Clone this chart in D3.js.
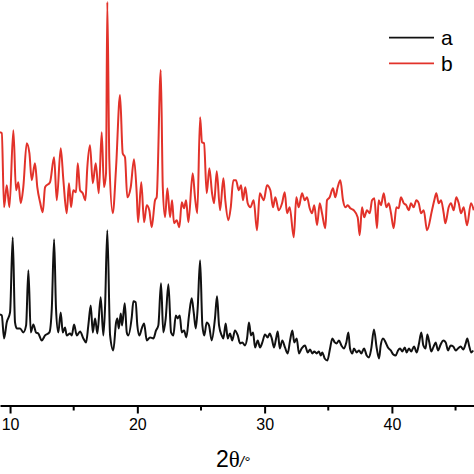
<!DOCTYPE html>
<html lang="en">
    <head>
        <meta charset="utf-8">
        <title>XRD patterns a and b</title>
        <script type="text/javascript" src="https://d3js.org/d3.v7.min.js"></script>
        <style>
            body { margin: 0; background: #fff; }
        </style>
    </head>
    <body>
        <script type="text/javascript">

            // series a (black) : 2theta and intensity (a.u.)
            var aTheta = [9.21, 9.35, 9.53, 9.74, 10.00, 10.21, 10.39, 10.53, 10.79, 11.04, 11.26, 11.44, 11.63, 11.83, 12.04, 12.22, 12.49, 12.75, 13.09, 13.28,
                13.46, 13.61, 13.79, 13.98, 14.14, 14.32, 14.45, 14.71, 14.85, 15.03, 15.24, 15.50, 15.76, 15.97, 16.15, 16.34, 16.50, 16.68, 16.86, 17.12,
                17.33, 17.46, 17.64, 17.86, 18.11, 18.33, 18.43, 18.54, 18.70, 18.80, 19.01, 19.17, 19.29, 19.56, 19.69, 19.87, 20.00, 20.16, 20.35, 20.53,
                20.74, 21.00, 21.26, 21.47, 21.65, 21.86, 22.04, 22.23, 22.44, 22.65, 22.83, 23.02, 23.17, 23.33, 23.49, 23.67, 23.85, 24.06, 24.27, 24.43,
                24.59, 24.74, 24.93, 25.11, 25.26, 25.45, 25.63, 25.84, 26.10, 26.26, 26.42, 26.63, 26.76, 26.94, 27.10, 27.28, 27.46, 27.67, 27.89, 28.07,
                28.25, 28.46, 28.62, 28.77, 28.93, 29.09, 29.25, 29.46, 29.64, 29.82, 30.03, 30.24, 30.40, 30.56, 30.74, 30.90, 31.03, 31.19, 31.39, 31.60,
                31.81, 32.00, 32.18, 32.33, 32.52, 32.70, 32.91, 33.17, 33.39, 33.57, 33.75, 33.90, 34.09, 34.27, 34.41, 34.53, 34.72, 34.93, 35.14, 35.32,
                35.51, 35.66, 35.84, 36.03, 36.24, 36.42, 36.58, 36.71, 36.89, 37.02, 37.23, 37.42, 37.60, 37.81, 38.02, 38.20, 38.38, 38.59, 38.81, 38.99,
                39.12, 39.30, 39.51, 39.69, 39.91, 40.11, 40.30, 40.48, 40.64, 40.82, 41.01, 41.16, 41.34, 41.52, 41.74, 41.95, 42.13, 42.31, 42.47, 42.65,
                42.78, 42.94, 43.09, 43.25, 43.44, 43.62, 43.83, 44.04, 44.23, 44.41, 44.62, 44.82, 45.01, 45.19, 45.40, 45.61, 45.80, 45.92, 46.08, 46.24, 46.39];
            var aIntensity = [91, 90, 67, 83, 93, 168, 83, 77, 77, 73, 80, 135, 73, 81, 73, 72, 65, 70, 73, 97,
                166, 97, 73, 93, 73, 78, 70, 72, 70, 81, 70, 74, 67, 63, 80, 100, 73, 87, 72, 108,
                70, 97, 175, 70, 55, 83, 87, 77, 92, 80, 102, 73, 70, 88, 104, 103, 80, 70, 77, 82,
                65, 68, 67, 75, 80, 122, 73, 87, 121, 73, 70, 90, 87, 90, 73, 75, 68, 90, 107, 93,
                77, 97, 145, 80, 70, 83, 80, 65, 87, 109, 80, 70, 67, 82, 67, 72, 65, 75, 70, 62,
                63, 60, 67, 83, 70, 73, 58, 65, 58, 63, 71, 68, 72, 67, 58, 67, 74, 57, 65, 58,
                52, 65, 75, 63, 67, 52, 57, 60, 53, 56, 52, 54, 52, 54, 50, 53, 47, 45, 57, 67,
                63, 62, 65, 60, 57, 63, 73, 57, 52, 57, 53, 55, 52, 57, 50, 48, 57, 76, 57, 47,
                60, 67, 63, 58, 55, 51, 50, 55, 57, 54, 58, 53, 57, 54, 59, 53, 62, 73, 60, 57,
                71, 63, 54, 58, 63, 55, 61, 65, 63, 55, 60, 59, 55, 57, 59, 56, 62, 67, 59, 53, 55];

            // series b (red)
            var bTheta = [9.21, 9.35, 9.53, 9.74, 9.95, 10.26, 10.47, 10.65, 10.84, 11.04, 11.31, 11.52, 11.70, 11.96, 12.14, 12.36, 12.57, 12.75, 13.14, 13.46,
                13.67, 13.98, 14.19, 14.45, 14.63, 14.79, 14.97, 15.18, 15.32, 15.50, 15.71, 15.92, 16.07, 16.28, 16.50, 16.73, 16.97, 17.20, 17.38, 17.54,
                17.64, 17.80, 18.07, 18.33, 18.64, 18.85, 19.03, 19.21, 19.48, 19.74, 19.95, 20.06, 20.31, 20.53, 20.74, 20.94, 21.13, 21.39, 21.52, 21.84,
                22.00, 22.18, 22.36, 22.57, 22.73, 22.88, 23.09, 23.30, 23.49, 23.67, 23.83, 24.01, 24.35, 24.53, 24.71, 24.93, 25.08, 25.24, 25.45, 25.66,
                25.87, 26.03, 26.24, 26.50, 26.76, 26.91, 27.15, 27.34, 27.54, 27.75, 27.97, 28.15, 28.30, 28.48, 28.67, 28.88, 29.14, 29.40, 29.62, 29.93,
                30.19, 30.45, 30.66, 30.84, 31.11, 31.37, 31.58, 31.76, 31.97, 32.29, 32.49, 32.68, 32.94, 33.15, 33.33, 33.54, 33.72, 33.90, 34.12, 34.33,
                34.51, 34.77, 34.90, 35.11, 35.37, 35.55, 35.74, 35.95, 36.16, 36.34, 36.53, 36.73, 37.00, 37.31, 37.47, 37.65, 37.83, 38.04, 38.26, 38.44,
                38.62, 38.83, 38.96, 39.14, 39.36, 39.56, 39.75, 39.93, 40.14, 40.35, 40.53, 40.71, 40.93, 41.13, 41.32, 41.50, 41.71, 41.92, 42.11, 42.29,
                42.50, 42.76, 43.15, 43.33, 43.49, 43.68, 43.86, 44.07, 44.20, 44.46, 44.64, 44.85, 45.06, 45.25, 45.43, 45.64, 45.90, 46.21, 46.43];
            var bIntensity = [273, 272, 198, 220, 198, 275, 215, 223, 202, 218, 262, 252, 225, 242, 218, 203, 193, 218, 223, 248,
                205, 257, 225, 192, 222, 198, 215, 213, 242, 215, 212, 205, 238, 260, 222, 242, 212, 273, 218, 232,
                403, 245, 192, 238, 310, 252, 248, 208, 218, 246, 212, 183, 223, 183, 200, 195, 178, 205, 208, 335,
                218, 188, 217, 188, 205, 182, 185, 178, 203, 197, 205, 183, 232, 208, 192, 288, 263, 262, 212, 237,
                212, 202, 234, 195, 227, 205, 185, 198, 225, 225, 215, 220, 205, 218, 202, 198, 205, 175, 212, 205,
                220, 215, 198, 208, 195, 202, 213, 192, 198, 168, 208, 198, 212, 205, 208, 197, 192, 200, 180, 202,
                192, 177, 205, 208, 217, 208, 218, 225, 205, 198, 200, 197, 195, 188, 170, 198, 188, 195, 192, 205,
                207, 177, 205, 200, 212, 198, 202, 192, 177, 198, 197, 208, 202, 200, 195, 202, 198, 205, 202, 192,
                195, 175, 195, 205, 212, 202, 205, 192, 182, 198, 202, 195, 208, 202, 192, 198, 180, 202, 195];

            var seriesNames = ["a", "b"];
            var seriesColors = ["#111111", "#e2322a"];
            var xTicks = [10, 20, 30, 40];
            var xMinorTicks = [15, 25, 35, 45];

            var w = 474;
            var h = 474;
            var axisY = 405.5;

            var aData = aTheta.map(function(t, i) { return [t, aIntensity[i]]; });
            var bData = bTheta.map(function(t, i) { return [t, bIntensity[i]]; });
            var allSeries = [aData, bData];

            var xScale = d3.scaleLinear()
                            .domain([9.21, 46.45])
                            .range([0, w]);

            var yScale = d3.scaleLinear()
                            .domain([0, 405])
                            .range([axisY, 0]);

            var svg = d3.select("body")
                        .append("svg")
                        .attr("width", w)
                        .attr("height", h);

            var line = d3.line()
                        .curve(d3.curveMonotoneX)
                        .x(function(d) { return xScale(d[0]); })
                        .y(function(d) { return yScale(d[1]); });

            svg.selectAll("path.trace")
                .data(allSeries)
                .enter()
                .append("path")
                .attr("class", "trace")
                .attr("fill", "none")
                .attr("stroke", function(d, i) { return seriesColors[i]; })
                .attr("stroke-width", 2)
                .attr("stroke-linejoin", "round")
                .attr("d", line);

            // bottom axis: major ticks with labels, minor ticks without
            var xAxis = d3.axisBottom(xScale)
                            .tickValues(xTicks)
                            .tickSize(8)
                            .tickPadding(5)
                            .tickSizeOuter(0)
                            .tickFormat(d3.format("d"));

            var gx = svg.append("g")
                .attr("transform", "translate(0," + axisY + ")")
                .call(xAxis);

            gx.select(".domain").attr("stroke", "#000").attr("stroke-width", 2);
            gx.selectAll(".tick line").attr("stroke", "#000").attr("stroke-width", 2);
            gx.selectAll(".tick text")
                .attr("fill", "#000")
                .style("font-family", "Arial, 'Liberation Sans', sans-serif")
                .style("font-size", "16px");

            svg.append("g")
                .selectAll("line")
                .data(xMinorTicks)
                .enter()
                .append("line")
                .attr("x1", function(d) { return xScale(d); })
                .attr("x2", function(d) { return xScale(d); })
                .attr("y1", axisY)
                .attr("y2", axisY + 5)
                .attr("stroke", "#000")
                .attr("stroke-width", 2);

            // axis title 2θ/°
            var title = svg.append("text")
                .attr("x", 233)
                .attr("y", 467)
                .attr("text-anchor", "middle")
                .style("font-family", "Arial, 'Liberation Sans', sans-serif")
                .style("font-size", "23px")
                .attr("fill", "#000");
            title.append("tspan").text("2");
            title.append("tspan").style("font-family", "'Times New Roman', 'Liberation Serif', serif").text("θ");
            title.append("tspan").style("font-size", "15px").style("font-style", "italic").text("/°");

            // legend
            var legend = svg.append("g");
            legend.selectAll("line")
                .data(seriesNames)
                .enter()
                .append("line")
                .attr("x1", 389)
                .attr("x2", 434)
                .attr("y1", function(d, i) { return 37.7 + i * 25.6; })
                .attr("y2", function(d, i) { return 37.7 + i * 25.6; })
                .attr("stroke", function(d, i) { return seriesColors[i]; })
                .attr("stroke-width", 1.8);

            legend.selectAll("text")
                .data(seriesNames)
                .enter()
                .append("text")
                .attr("x", 441)
                .attr("y", function(d, i) { return 45 + i * 25.6; })
                .style("font-family", "Arial, 'Liberation Sans', sans-serif")
                .style("font-size", "21px")
                .attr("fill", "#000")
                .text(function(d) { return d; });

        </script>
    </body>
</html>
